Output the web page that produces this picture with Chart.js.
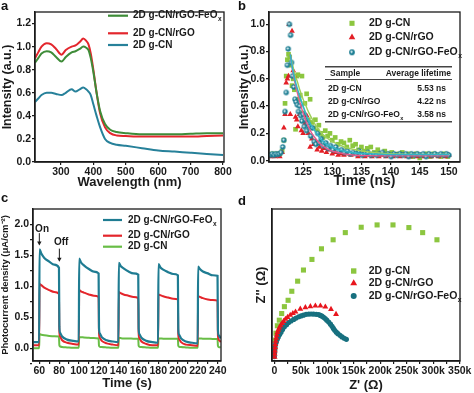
<!DOCTYPE html>
<html><head><meta charset="utf-8">
<script src="https://cdn.jsdelivr.net/npm/chart.js@4.4.1/dist/chart.umd.min.js"></script>
<style>
html,body{margin:0;padding:0;background:#fff}
body{position:relative;width:474px;height:393px;overflow:hidden}
canvas{position:absolute}
.pl{position:absolute;font:bold 13px 'Liberation Sans',Arial,sans-serif;color:#111;line-height:1}
</style></head><body>
<canvas id="ca" width="237" height="195" style="left:0;top:0"></canvas>
<canvas id="cb" width="237" height="195" style="left:237px;top:0"></canvas>
<canvas id="cc" width="237" height="198" style="left:0;top:195px"></canvas>
<canvas id="cd" width="237" height="198" style="left:237px;top:195px"></canvas>
<div class="pl" style="left:1px;top:-1px">a</div>
<div class="pl" style="left:238px;top:-1px">b</div>
<div class="pl" style="left:1px;top:191px">c</div>
<div class="pl" style="left:238px;top:194px">d</div>
<script>
const FONT = "'Liberation Sans', Arial, Helvetica, sans-serif";
const INK = '#1a1a1a';

// ---------- Panel a : absorption ----------
const aLabels = ['2D g-CN/rGO-FeOx', '2D g-CN/rGO', '2D g-CN'];
const aWavelength = [220,230,240,256,270,285,302,315,333,345,358,369,378,385,392,400,410,421,436,452,472,500,550,600,650,700,750,800];
const aFeOx = [0.86,0.90,0.94,0.96,0.95,0.91,0.87,0.91,0.95,0.96,0.98,1.00,0.99,0.97,0.90,0.78,0.60,0.44,0.33,0.28,0.26,0.25,0.24,0.24,0.24,0.245,0.25,0.25];
const aRGO = [0.90,0.95,1.00,1.03,1.02,0.98,0.93,0.97,1.00,1.01,1.04,1.07,1.05,1.02,0.94,0.80,0.60,0.42,0.30,0.25,0.23,0.225,0.22,0.22,0.22,0.22,0.225,0.23];
const aCN = [0.52,0.55,0.58,0.60,0.60,0.59,0.58,0.60,0.63,0.61,0.63,0.645,0.63,0.61,0.58,0.50,0.40,0.30,0.20,0.165,0.15,0.14,0.12,0.10,0.09,0.08,0.07,0.06];
const aXTicks = [300,400,500,600,700,800];
const aYTicks = [0,0.2,0.4,0.6,0.8,1.0,1.2];

// ---------- Panel b : PL decay ----------
const bLabels = ['2D g-CN', '2D g-CN/rGO', '2D g-CN/rGO-FeOx'];
const bCN = [[119.4,.04],[119.8,.05],[120.2,.04],[120.6,.05],[121.0,.05],[121.4,.07],[121.7,.15],[121.9,.42],[122.1,.62],[122.3,.74],[122.5,.78],[122.7,.76],[122.9,.70],[123.1,.55],[123.3,.60],[123.5,.52],[123.7,.23],[123.9,.62],[124.1,.63],[124.3,.45],[124.5,.48],[124.8,.62],[125.0,.35],[125.3,.42],[125.6,.49],[125.9,.30],[126.2,.45],[126.5,.28],[126.8,.24],[127.1,.30],[127.4,.22],[127.7,.26],[128.0,.20],[128.4,.17],[128.8,.22],[129.2,.18],[129.6,.20],[130.0,.15],[130.5,.17],[131.0,.12],[131.5,.14],[132.0,.13],[132.5,.10],[133.0,.15],[133.5,.11],[134.0,.12],[134.5,.08],[135.0,.10],[135.5,.07],[136.0,.09],[136.6,.10],[137.2,.06],[137.8,.08],[138.4,.05],[139.0,.07],[139.6,.05],[140.2,.06],[140.8,.04],[141.4,.05],[142.0,.06],[142.6,.04],[143.2,.05],[143.8,.03],[144.4,.05],[145.0,.02],[145.6,.04],[146.2,.05],[146.8,.03],[147.4,.05],[148.0,.04],[148.6,.03],[149.2,.05],[149.8,.03]];
const bRGO = [[119.4,.03],[119.8,.04],[120.2,.03],[120.6,.04],[121.0,.03],[121.4,.06],[121.7,.24],[121.9,.34],[122.1,.57],[122.3,.60],[122.5,.62],[122.6,1.0],[122.8,.34],[123.1,.95],[123.3,.66],[123.5,.62],[123.7,.32],[123.9,.30],[124.1,.25],[124.4,.34],[124.7,.22],[125.0,.20],[125.3,.27],[125.6,.33],[125.9,.20],[126.2,.10],[126.5,.16],[126.8,.12],[127.1,.14],[127.4,.08],[127.8,.10],[128.2,.07],[128.6,.09],[129.0,.06],[129.5,.08],[130.0,.05],[130.5,.06],[131.0,.04],[131.5,.05],[132.0,.04],[132.6,.05],[133.2,.04],[133.8,.05],[134.4,.03],[135.0,.04],[135.6,.03],[136.2,.04],[136.8,.03],[137.4,.04],[138.0,.03],[138.6,.04],[139.2,.03],[139.8,.04],[140.4,.03],[141.0,.04],[141.6,.03],[142.2,.04],[142.8,.03],[143.4,.03],[144.0,.04],[144.6,.03],[145.2,.04],[145.8,.03],[146.4,.04],[147.0,.03],[147.6,.04],[148.2,.03],[148.8,.04],[149.4,.03],[150.0,.04]];
const bFeOx = [[119.4,.04],[119.7,.05],[120.0,.04],[120.3,.05],[120.6,.045],[120.9,.05],[121.2,.06],[121.5,.10],[121.7,.15],[121.9,.36],[122.1,.50],[122.3,.70],[122.45,.82],[122.65,1.0],[122.85,.92],[123.0,.72],[123.2,.62],[123.4,.54],[123.6,.45],[123.8,.43],[124.0,.41],[124.2,.36],[124.4,.40],[124.6,.33],[124.8,.29],[125.0,.34],[125.2,.25],[125.4,.30],[125.6,.22],[125.8,.27],[126.0,.25],[126.3,.18],[126.6,.24],[126.9,.14],[127.2,.12],[127.5,.20],[127.8,.13],[128.1,.16],[128.5,.11],[128.9,.13],[129.3,.09],[129.7,.11],[130.1,.08],[130.6,.10],[131.1,.07],[131.6,.08],[132.1,.06],[132.6,.07],[133.1,.05],[133.6,.06],[134.1,.05],[134.6,.07],[135.1,.04],[135.6,.05],[136.1,.06],[136.6,.04],[137.1,.05],[137.6,.04],[138.1,.05],[138.6,.06],[139.1,.04],[139.6,.05],[140.1,.03],[140.6,.05],[141.1,.04],[141.6,.05],[142.1,.04],[142.6,.05],[143.1,.03],[143.6,.05],[144.1,.04],[144.6,.05],[145.1,.04],[145.6,.05],[146.1,.03],[146.6,.05],[147.1,.04],[147.6,.05],[148.1,.04],[148.6,.05],[149.1,.04],[149.6,.05],[150.0,.04]];
const bFitT = [122.8,123.2,123.6,124,124.5,125,125.5,126,126.5,127,128,129,130,131,132,134,136,140,145,150];
const bFitFeOx = [0.78,0.67,0.59,0.53,0.46,0.40,0.34,0.29,0.25,0.22,0.16,0.12,0.10,0.08,0.07,0.055,0.05,0.045,0.045,0.045];
const bFitRGO = [0.78,0.66,0.57,0.50,0.42,0.35,0.29,0.24,0.20,0.17,0.12,0.09,0.07,0.06,0.05,0.04,0.037,0.035,0.035,0.035];
const bFitCN = [0.78,0.70,0.63,0.58,0.51,0.45,0.40,0.35,0.31,0.27,0.21,0.17,0.14,0.12,0.10,0.08,0.065,0.05,0.045,0.045];
const bTableHead = ['Sample', 'Average lifetime'];
const bSamples = ['2D g-CN', '2D g-CN/rGO', '2D g-CN/rGO-FeOx'];
const bLifetimes = ['5.53 ns', '4.22 ns', '3.58 ns'];
const bXTicks = [125,130,135,140,145,150];
const bYTicks = [0,0.2,0.4,0.6,0.8,1.0];

// ---------- Panel c : photocurrent ----------
const cLabels = ['2D g-CN/rGO-FeOx', '2D g-CN/rGO', '2D g-CN'];
const cTime = [54,59.8,60.2,62,65,70,75,79.8,80.2,81,83,88,94,99.8,100.2,102,105,110,115,119.8,120.2,121,123,128,134,139.8,140.2,142,145,150,155,159.8,160.2,161,163,168,174,179.8,180.2,182,185,190,195,199.8,200.2,201,203,208,214,219.8,220.2,222,225,230,235,239.8,240.2,241,243];
const cFeOx = [0.10,0.10,1.60,1.53,1.46,1.40,1.35,1.30,0.35,0.25,0.19,0.14,0.12,0.11,
 1.45,1.39,1.34,1.28,1.24,1.21,0.33,0.24,0.18,0.13,0.11,0.10,
 1.38,1.33,1.29,1.24,1.21,1.19,0.32,0.23,0.17,0.12,0.10,0.09,
 1.36,1.31,1.27,1.23,1.20,1.18,0.31,0.22,0.16,0.11,0.09,0.08,
 1.32,1.28,1.24,1.21,1.18,1.17,0.30,0.21,0.16];
const cRGO = [0.05,0.05,1.04,1.02,0.98,0.94,0.91,0.88,0.27,0.19,0.13,0.09,0.07,0.06,
 0.94,0.92,0.90,0.87,0.85,0.83,0.25,0.17,0.12,0.08,0.06,0.05,
 0.91,0.89,0.87,0.85,0.83,0.81,0.24,0.16,0.11,0.07,0.05,0.05,
 0.87,0.86,0.84,0.82,0.80,0.79,0.22,0.15,0.10,0.06,0.05,0.04,
 0.84,0.83,0.81,0.79,0.78,0.77,0.20,0.14,0.10];
const cCN = [0.00,0.00,0.23,0.22,0.21,0.20,0.195,0.19,0.05,0.03,0.02,0.015,0.01,0.01,
 0.18,0.18,0.175,0.17,0.165,0.16,0.04,0.025,0.02,0.015,0.01,0.01,
 0.17,0.165,0.16,0.16,0.155,0.155,0.04,0.025,0.02,0.015,0.01,0.01,
 0.16,0.16,0.155,0.155,0.155,0.155,0.04,0.025,0.02,0.015,0.01,0.01,
 0.16,0.16,0.155,0.155,0.15,0.15,0.04,0.02,0.015];
const cXTicks = [60,70,80,90,100,110,120,130,140,150,160,170,180,190,200,210,220,230,240];
const cXLabels = [60,80,100,120,140,160,180,200,220,240];
const cYTicks = [-0.25,0,0.25,0.5,0.75,1.0,1.25,1.5,1.75,2.0];
const cYLabels = [0,0.5,1.0,1.5,2.0];
const cNotes = [{text:'On', at:60, textY:1.93, from:1.86, to:1.66, dx:2.7},{text:'Off', at:80.2, textY:1.71, from:1.61, to:1.40, dx:1.8}];

// ---------- Panel d : Nyquist ----------
const dLabels = ['2D g-CN', '2D g-CN/rGO', '2D g-CN/rGO-FeOx'];
const dCN = [[800,20000],[1500,35000],[3000,48000],[5700,62000],[9400,72500],[13900,85000],[19000,98000],[26000,110000],[33000,127000],[44000,146000],[55000,167000],[71000,187000],[89000,207000],[111000,224000],[134000,237500],[164000,247600],[194000,252000],[224000,252000],[254000,247000],[280000,237500],[307000,224000]];
const dRGO = [[500,3000],[700,9000],[1000,15000],[1400,21000],[1900,27000],[2600,33000],[3500,39000],[4600,44500],[5900,49500],[7500,54000],[9400,58000],[11800,62500],[14500,66500],[17500,70500],[21000,74500],[25000,78000],[30000,82000],[35000,85500],[40000,88200],[49000,93700],[58600,96400],[68000,98300],[77500,99500],[87000,99500],[96300,97600],[107000,93200],[116500,83800]];
const dFeOx = [[0,4000],[300,9500],[800,15000],[1300,21000],[2200,26500],[3800,31500],[5500,36500],[7500,41000],[10000,45500],[12600,50000],[15500,55000],[19000,60000],[23000,64000],[27000,68000],[31500,71000],[36500,74000],[41000,76500],[46000,79000],[50500,80500],[55000,82000],[60000,83500],[65000,84000],[69500,84200],[74000,84000],[79000,83500],[83700,83000],[87000,81500],[90000,80000],[93000,78000],[96000,75600],[99000,72500],[102600,69000],[106000,65000],[109000,61000],[111500,57000],[114000,53500],[117000,50000],[120000,47000],[124000,44000],[127800,41000],[132000,38500],[136000,36500]];
const dXTicks = [0,25000,50000,75000,100000,125000,150000,175000,200000,225000,250000,275000,300000,325000,350000];
const dXLabels = [0,50000,100000,150000,200000,250000,300000,350000];

// ---------- colours ----------
const COL = {
  aFe:'#3e8c38', aRGO:'#e3262d', aCN:'#27819a',
  bCN:'#8cc63f', bRGO:'#e31f26', bFe:'#1f7f94', fitFe:'#33b4c8', fitRGO:'#ea5b8e', fitCN:'#9fcf5a',
  cFe:'#1f7c92', cRGO:'#e4252b', cCN:'#68bd46',
  dCN:'#8cc63f', dRGO:'#e8151d', dFe:'#17707f'
};

// ---------- helpers ----------
function richText(ctx, text, x, y, size, align) {
  ctx.font = 'bold ' + size + 'px ' + FONT;
  ctx.textBaseline = 'middle';
  const sub = text.endsWith('FeOx');
  const main = sub ? text.slice(0, -1) : text;
  let w = ctx.measureText(main).width;
  let sw = 0;
  if (sub) { ctx.font = 'bold ' + (size * 0.65) + 'px ' + FONT; sw = ctx.measureText('x').width + 0.5; }
  let x0 = align === 'right' ? x - w - sw : x;
  ctx.textAlign = 'left';
  ctx.font = 'bold ' + size + 'px ' + FONT;
  ctx.fillText(main, x0, y);
  if (sub) { ctx.font = 'bold ' + (size * 0.65) + 'px ' + FONT; ctx.fillText('x', x0 + w + 0.5, y + size * 0.38); }
}
function drawMarker(ctx, kind, x, y, r, color) {
  ctx.fillStyle = color;
  if (kind === 'rect') { const s = Math.SQRT1_2 * r; ctx.fillRect(x - s, y - s, 2 * s, 2 * s); }
  else if (kind === 'triangle') {
    ctx.beginPath();
    for (let k = 0; k < 3; k++) { const a = k * 2 * Math.PI / 3; const px = x + Math.sin(a) * r, py = y - Math.cos(a) * r; k ? ctx.lineTo(px, py) : ctx.moveTo(px, py); }
    ctx.closePath(); ctx.fill();
  } else if (kind === 'bead') { ctx.drawImage(beadImage(r, color), x - Math.ceil(r * 2 + 2) / 2, y - Math.ceil(r * 2 + 2) / 2); }
  else { ctx.beginPath(); ctx.arc(x, y, r, 0, Math.PI * 2); ctx.fill(); }
}
function beadImage(r, color) {
  const c = document.createElement('canvas'); const s = Math.ceil(r * 2 + 2); c.width = c.height = s;
  const g = c.getContext('2d');
  g.fillStyle = color; g.beginPath(); g.arc(s / 2, s / 2, r, 0, Math.PI * 2); g.fill();
  g.fillStyle = '#e6f6f9'; g.beginPath(); g.arc(s / 2 - r * 0.15, s / 2 - r * 0.15, r * 0.4, 0, Math.PI * 2); g.fill();
  return c;
}
function legendPlugin(cfg) {
  return { id: 'rl', afterDraw(chart) {
    const ctx = chart.ctx; ctx.save();
    cfg.items.forEach((it, i) => {
      const y = cfg.rows[i];
      if (it.kind === 'line') { ctx.strokeStyle = it.color; ctx.lineWidth = 2.2; ctx.beginPath(); ctx.moveTo(cfg.markX, y); ctx.lineTo(cfg.markX + cfg.lineLen, y); ctx.stroke(); }
      else drawMarker(ctx, it.kind, cfg.markX, y, it.r, it.color);
      ctx.fillStyle = INK;
      richText(ctx, it.label, cfg.textX, y, cfg.size);
    });
    ctx.restore();
  }};
}
const framePlugin = { id: 'frame', afterDatasetsDraw(chart) {
  const { ctx, chartArea: a } = chart; ctx.save(); ctx.strokeStyle = INK; ctx.lineWidth = 1.3;
  ctx.strokeRect(a.left, a.top, a.right - a.left, a.bottom - a.top); ctx.restore();
}};
function axis(o) {
  const horiz = o.pos === 'x';
  return {
    type: 'linear', position: horiz ? 'bottom' : 'left', min: o.min, max: o.max,
    afterBuildTicks: s => { s.ticks = o.ticks.map(v => ({ value: v })); },
    afterFit: s => { if (horiz) s.height = o.extent; else s.width = o.extent; },
    grid: { display: true, drawOnChartArea: false, drawTicks: o.drawTicks !== false, tickLength: 3, color: INK, lineWidth: 1.2 },
    border: { display: true, color: INK, width: 1.4 },
    ticks: { display: o.labels !== false, font: { family: FONT, size: 10.5, weight: 'bold' }, color: INK, padding: 1, maxRotation: 0, autoSkip: false, callback: o.fmt },
    title: { display: true, text: o.title, font: { family: FONT, size: o.titleSize, weight: 'bold' }, color: INK, padding: o.titlePad }
  };
}
const baseOpts = (padTop, padRight) => ({
  responsive: false, animation: false, devicePixelRatio: 1, events: [],
  layout: { padding: { top: padTop, right: padRight, left: 0, bottom: 0 } },
  plugins: { legend: { display: false }, tooltip: { enabled: false } }
});
const xy = (xs, ys) => xs.map((x, i) => ({ x, y: ys[i] }));
const pts = arr => arr.map(p => ({ x: p[0], y: p[1] }));

// ---------- Chart a ----------
new Chart(document.getElementById('ca'), {
  type: 'line',
  data: { datasets: [
    { data: xy(aWavelength, aFeOx), borderColor: COL.aFe, borderWidth: 2, pointRadius: 0, cubicInterpolationMode: 'monotone' },
    { data: xy(aWavelength, aRGO), borderColor: COL.aRGO, borderWidth: 2, pointRadius: 0, cubicInterpolationMode: 'monotone' },
    { data: xy(aWavelength, aCN), borderColor: COL.aCN, borderWidth: 2, pointRadius: 0, cubicInterpolationMode: 'monotone' }
  ]},
  options: Object.assign(baseOpts(12, 13), { scales: {
    x: axis({ pos: 'x', min: 220, max: 803, ticks: aXTicks, extent: 33, title: 'Wavelength (nm)', titleSize: 13, titlePad: { top: 0, bottom: 5 }, fmt: v => String(v) }),
    y: axis({ pos: 'y', min: 0, max: 1.3, ticks: aYTicks, extent: 35, title: 'Intensity (a.u.)', titleSize: 12.5, titlePad: { top: 0, bottom: 0 }, fmt: v => v.toFixed(1) })
  }}),
  plugins: [framePlugin, legendPlugin({ markX: 108, lineLen: 20, textX: 133, size: 10, rows: [15.7, 33.3, 45],
    items: [{ label: aLabels[0], color: COL.aFe, kind: 'line' }, { label: aLabels[1], color: COL.aRGO, kind: 'line' }, { label: aLabels[2], color: COL.aCN, kind: 'line' }] })]
});

// ---------- Chart b ----------
const bead = beadImage(2.7, COL.bFe);
new Chart(document.getElementById('cb'), {
  type: 'scatter',
  data: { datasets: [
    { data: xy(bFitT, bFitFeOx), showLine: true, borderColor: COL.fitFe, borderWidth: 1.6, pointRadius: 0, cubicInterpolationMode: 'monotone' },
    { data: xy(bFitT, bFitRGO), showLine: true, borderColor: COL.fitRGO, borderWidth: 1.4, pointRadius: 0, cubicInterpolationMode: 'monotone' },
    { data: xy(bFitT, bFitCN), showLine: true, borderColor: COL.fitCN, borderWidth: 1.4, pointRadius: 0, cubicInterpolationMode: 'monotone' },
    { data: pts(bFeOx), pointStyle: bead, pointRadius: 2.7 },
    { data: pts(bRGO), pointStyle: 'triangle', pointRadius: 3.3, backgroundColor: COL.bRGO, borderWidth: 0 },
    { data: pts(bCN), pointStyle: 'rect', pointRadius: 3.3, backgroundColor: COL.bCN, borderWidth: 0 }
  ]},
  options: Object.assign(baseOpts(12, 14), { scales: {
    x: axis({ pos: 'x', min: 119.15, max: 151.9, ticks: bXTicks, extent: 33, title: 'Time (ns)', titleSize: 14, titlePad: { top: 0, bottom: 5 }, fmt: v => String(v) }),
    y: axis({ pos: 'y', min: -0.01, max: 1.09, ticks: bYTicks, extent: 32, title: 'Intensity (a.u.)', titleSize: 12.5, titlePad: { top: 0, bottom: 0 }, fmt: v => v.toFixed(1) })
  }}),
  plugins: [framePlugin,
    legendPlugin({ markX: 115, textX: 132, size: 10.5, rows: [23.3, 37.3, 52.3],
      items: [{ label: bLabels[0], color: COL.bCN, kind: 'rect', r: 3.6 }, { label: bLabels[1], color: COL.bRGO, kind: 'triangle', r: 3.8 }, { label: bLabels[2], color: COL.bFe, kind: 'bead', r: 2.9 }] }),
    { id: 'table', afterDraw(chart) {
      const ctx = chart.ctx; ctx.save(); ctx.strokeStyle = '#444';
      const L = 88, R = 215;
      ctx.lineWidth = 1.4; ctx.beginPath(); ctx.moveTo(L, 66.7); ctx.lineTo(R, 66.7); ctx.moveTo(L, 121.7); ctx.lineTo(R, 121.7); ctx.stroke();
      ctx.lineWidth = 1; ctx.beginPath(); ctx.moveTo(L, 79.5); ctx.lineTo(R, 79.5); ctx.stroke();
      ctx.fillStyle = INK;
      richText(ctx, bTableHead[0], 93, 73.5, 8.5);
      richText(ctx, bTableHead[1], 214, 73.5, 8.5, 'right');
      const rows = [88.3, 101.7, 115];
      bSamples.forEach((s, i) => { richText(ctx, s, 91, rows[i], 8.5); richText(ctx, bLifetimes[i], 209, rows[i], 8.5, 'right'); });
      ctx.restore();
    }}
  ]
});

// ---------- Chart c ----------
new Chart(document.getElementById('cc'), {
  type: 'line',
  data: { datasets: [
    { data: xy(cTime, cFeOx), borderColor: COL.cFe, borderWidth: 2.2, pointRadius: 0, cubicInterpolationMode: 'monotone' },
    { data: xy(cTime, cRGO), borderColor: COL.cRGO, borderWidth: 2, pointRadius: 0, cubicInterpolationMode: 'monotone' },
    { data: xy(cTime, cCN), borderColor: COL.cCN, borderWidth: 2, pointRadius: 0, cubicInterpolationMode: 'monotone' }
  ]},
  options: Object.assign(baseOpts(14, 16), { scales: {
    x: axis({ pos: 'x', min: 53.6, max: 243.3, ticks: cXTicks, extent: 32, title: 'Time (s)', titleSize: 13, titlePad: { top: 0, bottom: 2 }, fmt: v => cXLabels.includes(v) ? String(v) : '' }),
    y: axis({ pos: 'y', min: -0.205, max: 2.25, ticks: cYTicks, extent: 33, title: 'Photocurrent density (\u03BCA/cm\u207B\u00B2)', titleSize: 9.5, titlePad: { top: 0, bottom: 0 }, fmt: v => cYLabels.includes(v) ? v.toFixed(1) : '' })
  }}),
  plugins: [framePlugin,
    legendPlugin({ markX: 103, lineLen: 19, textX: 128, size: 10, rows: [25, 40.7, 51.7],
      items: [{ label: cLabels[0], color: COL.cFe, kind: 'line' }, { label: cLabels[1], color: COL.cRGO, kind: 'line' }, { label: cLabels[2], color: COL.cCN, kind: 'line' }] }),
    { id: 'notes', afterDraw(chart) {
      const ctx = chart.ctx, sx = chart.scales.x, sy = chart.scales.y; ctx.save();
      cNotes.forEach(n => {
        const x = sx.getPixelForValue(n.at);
        ctx.fillStyle = INK; ctx.font = 'bold 10px ' + FONT; ctx.textAlign = 'center'; ctx.textBaseline = 'middle';
        ctx.fillText(n.text, x + n.dx, sy.getPixelForValue(n.textY));
        const y1 = sy.getPixelForValue(n.from), y2 = sy.getPixelForValue(n.to);
        ctx.strokeStyle = INK; ctx.lineWidth = 1; ctx.beginPath(); ctx.moveTo(x, y1); ctx.lineTo(x, y2 - 3); ctx.stroke();
        ctx.beginPath(); ctx.moveTo(x - 2.2, y2 - 4); ctx.lineTo(x + 2.2, y2 - 4); ctx.lineTo(x, y2); ctx.closePath(); ctx.fill();
      });
      ctx.restore();
    }}
  ]
});

// ---------- Chart d ----------
new Chart(document.getElementById('cd'), {
  type: 'scatter',
  data: { datasets: [
    { data: pts(dRGO), pointStyle: 'triangle', pointRadius: 3.4, backgroundColor: COL.dRGO, borderWidth: 0 },
    { data: pts(dFeOx), pointStyle: 'circle', pointRadius: 2.6, backgroundColor: COL.dFe, borderWidth: 0 },
    { data: pts(dCN), pointStyle: 'rect', pointRadius: 3.6, backgroundColor: COL.dCN, borderWidth: 0 }
  ]},
  options: Object.assign(baseOpts(14, 14), { scales: {
    x: axis({ pos: 'x', min: -4400, max: 350500, ticks: dXTicks, extent: 32, title: "Z' (\u03A9)", titleSize: 13, titlePad: { top: 0, bottom: 0 }, fmt: v => dXLabels.includes(v) ? (v === 0 ? '0' : (v / 1000) + 'k') : '' }),
    y: axis({ pos: 'y', min: -4400, max: 282000, ticks: [0, 100000, 200000], extent: 35, labels: false, drawTicks: false, title: "Z'' (\u03A9)", titleSize: 13, titlePad: { top: 17, bottom: 0 }, fmt: v => '' })
  }}),
  plugins: [framePlugin,
    legendPlugin({ markX: 116.7, textX: 131.7, size: 10.5, rows: [76, 88.3, 101],
      items: [{ label: dLabels[0], color: COL.dCN, kind: 'rect', r: 3.8 }, { label: dLabels[1], color: COL.dRGO, kind: 'triangle', r: 4 }, { label: dLabels[2], color: COL.dFe, kind: 'circle', r: 3 }] })]
});
</script>
</body></html>
